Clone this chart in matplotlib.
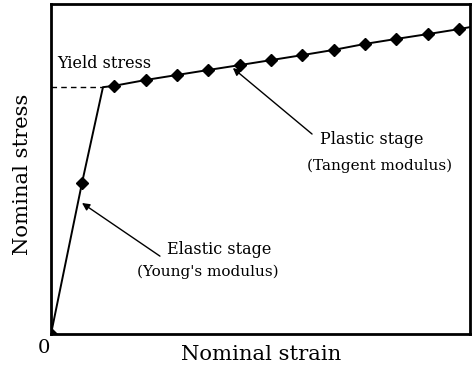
import matplotlib
matplotlib.use("Agg")
import matplotlib.pyplot as plt

# data (arbitrary normalized units)
elastic_x = [0.0, 0.074, 0.124]
elastic_y = [0.0, 0.458, 0.748]
plastic_x = [0.150, 0.227, 0.301, 0.375, 0.451, 0.525, 0.599, 0.675, 0.749, 0.823, 0.900, 0.974]
plastic_y = [0.752, 0.770, 0.785, 0.800, 0.815, 0.830, 0.845, 0.861, 0.879, 0.894, 0.909, 0.924]
end_x, end_y = 1.0, 0.930
yield_y = 0.748

fig = plt.figure(figsize=(4.74, 3.75), dpi=100)
ax = fig.add_axes([0.1076, 0.1093, 0.8840, 0.8800])
serif = ["DejaVu Serif"]

line_x = elastic_x + plastic_x + [end_x]
line_y = elastic_y + plastic_y + [end_y]
ax.plot(line_x, line_y, color="black", lw=1.4, zorder=3)
mx = [elastic_x[0], elastic_x[1]] + plastic_x
my = [elastic_y[0], elastic_y[1]] + plastic_y
ax.plot(mx, my, linestyle="none", marker="D", markersize=6.5, color="black", zorder=4, clip_on=True)
ax.plot([0, elastic_x[2]], [yield_y, yield_y], color="black", lw=1.0, linestyle=(0, (4, 3)), zorder=2)

ax.set_xlim(0, 1)
ax.set_ylim(0, 1)
ax.set_xticks([])
ax.set_yticks([])
for s in ax.spines.values():
    s.set_linewidth(2.0)

fs = 11.5
ax.text(0.0143, 0.821, "Yield stress", fontsize=fs, family=serif, ha="left", va="center")

arrowprops = dict(arrowstyle="-|>", color="black", lw=1.0, mutation_scale=11, shrinkA=0, shrinkB=0)
ax.annotate("", xy=(0.434, 0.806), xytext=(0.623, 0.606), arrowprops=arrowprops)
ax.annotate("", xy=(0.074, 0.397), xytext=(0.260, 0.236), arrowprops=arrowprops)

ax.text(0.766, 0.588, "Plastic stage", fontsize=fs, family=serif, ha="center", va="center")
ax.text(0.785, 0.509, "(Tangent modulus)", fontsize=11.0, family=serif, ha="center", va="center")
ax.text(0.401, 0.255, "Elastic stage", fontsize=fs, family=serif, ha="center", va="center")
ax.text(0.375, 0.188, "(Young's modulus)", fontsize=11.0, family=serif, ha="center", va="center")

fig.text(44 / 474, 1 - 348 / 375, "0", fontsize=14, family=serif, ha="center", va="center")
fig.text(261 / 474, 1 - 355 / 375, "Nominal strain", fontsize=15.2, family=serif, ha="center", va="center")
fig.text(23 / 474, 1 - 174 / 375, "Nominal stress", fontsize=15.2, family=serif, ha="center", va="center", rotation=90)

fig.savefig("out.png", dpi=100)
